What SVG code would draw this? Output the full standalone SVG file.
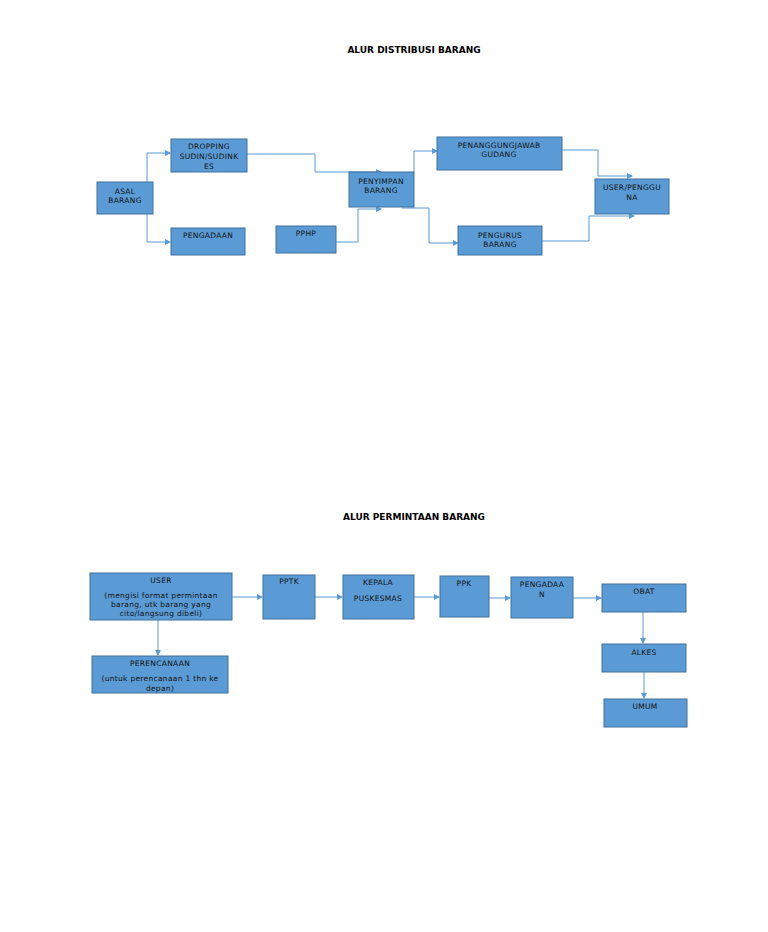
<svg xmlns="http://www.w3.org/2000/svg" width="768" height="932" viewBox="0 0 768 932">
<style>
.b{fill:#5b9bd5;stroke:#41719c;stroke-width:1}
.t{font-family:"DejaVu Sans",sans-serif;font-size:7.5px;fill:#111;text-anchor:middle;letter-spacing:0.3px}
.h{font-family:"DejaVu Sans",sans-serif;font-size:9px;font-weight:bold;fill:#000;text-anchor:middle}
.c{fill:none;stroke:#5b9bd5;stroke-width:1;marker-end:url(#a)}
</style>
<defs>
<marker id="a" markerWidth="6" markerHeight="6" refX="5" refY="3" orient="auto" markerUnits="userSpaceOnUse"><path d="M0,0L6,3L0,6z" fill="#5b9bd5"/></marker>
<clipPath id="c1"><rect x="171" y="139" width="76" height="33"/></clipPath>
<clipPath id="c2"><rect x="90" y="573" width="142" height="47"/></clipPath>
<clipPath id="c3"><rect x="92" y="656" width="136" height="37"/></clipPath>
</defs>
<rect width="768" height="932" fill="#fff"/>
<text class="h" x="414" y="53">ALUR DISTRIBUSI BARANG</text>
<text class="h" x="414" y="520">ALUR PERMINTAAN BARANG</text>
<g id="connectors">
<path class="c" d="M147,182V153H170"/>
<path class="c" d="M147,214V242H170"/>
<path class="c" d="M247,154H315V172H381"/>
<path class="c" d="M336,242H358V209H381"/>
<path class="c" d="M414,172V151H437"/>
<path class="c" d="M402,208H429V243H458"/>
<path class="c" d="M562,150H598V176H632"/>
<path class="c" d="M542,241H589V216H634"/>
<path class="c" d="M232,597H262"/>
<path class="c" d="M315,597H342"/>
<path class="c" d="M414,597H439"/>
<path class="c" d="M489,598H510"/>
<path class="c" d="M573,598H601"/>
<path class="c" d="M643,612V643"/>
<path class="c" d="M644,672V698"/>
<path class="c" d="M158,620V655"/>
</g>
<g id="asal"><rect class="b" x="97" y="182" width="56" height="32"/><text class="t" x="125" y="194">ASAL</text><text class="t" x="125" y="203">BARANG</text></g>
<g id="dropping"><rect class="b" x="171" y="139" width="76" height="33"/><g clip-path="url(#c1)"><text class="t" x="209" y="149">DROPPING</text><text class="t" x="209" y="159">SUDIN/SUDINK</text><text class="t" x="209" y="169">ES</text></g></g>
<g id="pengadaan1"><rect class="b" x="171" y="228" width="74" height="27"/><text class="t" x="208" y="238">PENGADAAN</text></g>
<g id="pphp"><rect class="b" x="276" y="226" width="60" height="27"/><text class="t" x="306" y="236">PPHP</text></g>
<g id="penyimpan"><rect class="b" x="349" y="172" width="65" height="35"/><text class="t" x="381" y="184">PENYIMPAN</text><text class="t" x="381" y="193">BARANG</text></g>
<g id="penanggung"><rect class="b" x="437" y="137" width="125" height="33"/><text class="t" x="499" y="148">PENANGGUNGJAWAB</text><text class="t" x="499" y="157">GUDANG</text></g>
<g id="pengurus"><rect class="b" x="458" y="226" width="84" height="29"/><text class="t" x="500" y="238">PENGURUS</text><text class="t" x="500" y="247">BARANG</text></g>
<g id="userpengguna"><rect class="b" x="595" y="179" width="74" height="35"/><text class="t" x="632" y="190">USER/PENGGU</text><text class="t" x="632" y="200">NA</text></g>
<g id="user"><rect class="b" x="90" y="573" width="142" height="47"/><g clip-path="url(#c2)"><text class="t" x="161" y="583">USER</text><text class="t" x="161" y="598">(mengisi format permintaan</text><text class="t" x="161" y="607">barang, utk barang yang</text><text class="t" x="161" y="616">cito/langsung dibeli)</text></g></g>
<g id="pptk"><rect class="b" x="263" y="575" width="52" height="44"/><text class="t" x="289" y="584">PPTK</text></g>
<g id="kepala"><rect class="b" x="343" y="575" width="71" height="44"/><text class="t" x="378" y="585">KEPALA</text><text class="t" x="378" y="601">PUSKESMAS</text></g>
<g id="ppk"><rect class="b" x="440" y="576" width="49" height="41"/><text class="t" x="464" y="586">PPK</text></g>
<g id="pengadaan2"><rect class="b" x="511" y="577" width="62" height="41"/><text class="t" x="542" y="587">PENGADAA</text><text class="t" x="542" y="597">N</text></g>
<g id="obat"><rect class="b" x="602" y="584" width="84" height="28"/><text class="t" x="644" y="594">OBAT</text></g>
<g id="alkes"><rect class="b" x="602" y="644" width="84" height="28"/><text class="t" x="644" y="655">ALKES</text></g>
<g id="umum"><rect class="b" x="604" y="699" width="83" height="28"/><text class="t" x="645" y="709">UMUM</text></g>
<g id="perencanaan"><rect class="b" x="92" y="656" width="136" height="37"/><g clip-path="url(#c3)"><text class="t" x="160" y="666">PERENCANAAN</text><text class="t" x="160" y="681">(untuk perencanaan 1 thn ke</text><text class="t" x="160" y="691">depan)</text></g></g>
</svg>
